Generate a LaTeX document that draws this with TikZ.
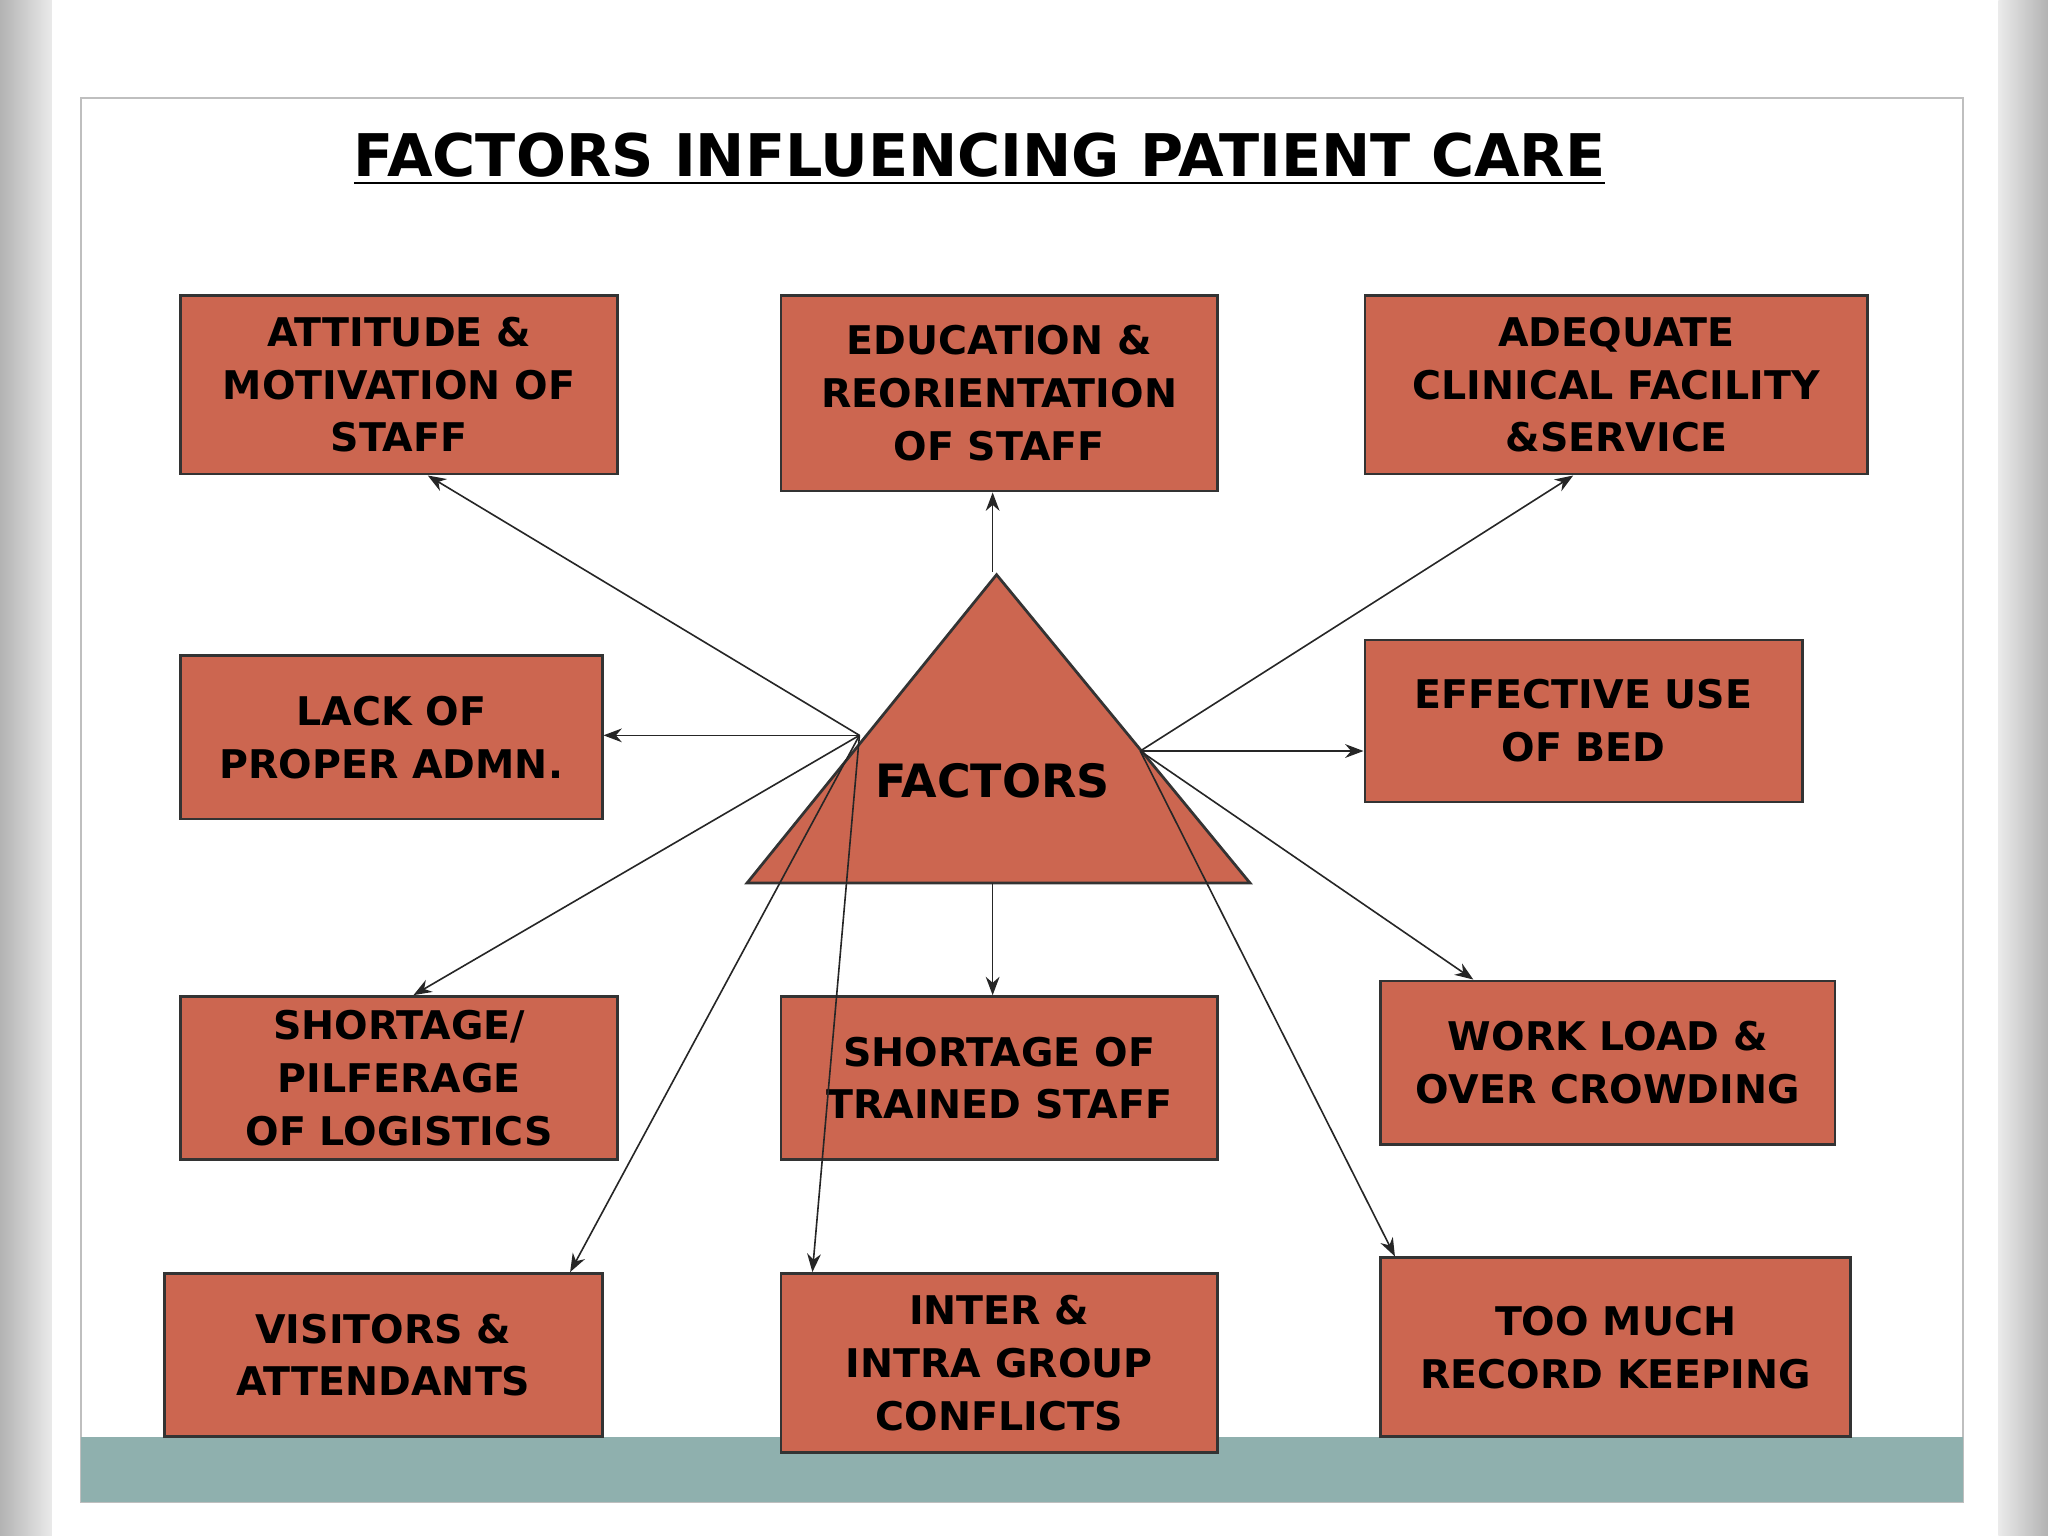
\documentclass[tikz,border=0pt]{standalone}
\usepackage{fontspec}
\setmainfont{DejaVu Sans}
\usetikzlibrary{arrows.meta,calc}
\definecolor{boxc}{HTML}{CC6650}
\definecolor{teal}{HTML}{8FB0AE}
\begin{document}
\begin{tikzpicture}[x=0.01cm,y=-0.01cm,
  bx/.style={draw=black!80,line width=0.6pt,fill=boxc,font=\bfseries\fontsize{8.6}{11.5}\selectfont,align=center,inner sep=0pt},
  ar/.style={draw=black!85,line width=0.35pt,-{Stealth[length=4pt,width=3pt]}}]
\useasboundingbox (0,0) rectangle (1568,1176);
\shade[left color=black!30,right color=black!8] (0,0) rectangle (40,1176);
\shade[left color=black!8,right color=black!30] (1530,0) rectangle (1568,1176);
\fill[white] (40,0) rectangle (1530,1176);
\draw[black!25] (62,75) rectangle (1503,1150);
\fill[teal] (62,1100) rectangle (1503,1150);
\node[font=\bfseries\fontsize{12.8}{14}\selectfont] (title) at (750,122) {\underline{FACTORS INFLUENCING PATIENT CARE}};
\newcommand{\bxx}[6]{\node[bx,minimum width={(#4-#2)*0.01cm},minimum height={(#5-#3)*0.01cm}] (#1) at ({(#2+#4)/2},{(#3+#5)/2}) {#6};}
\bxx{att}{138}{226}{473}{363}{ATTITUDE \&\\MOTIVATION OF\\STAFF}
\bxx{edu}{598}{226}{932}{376}{EDUCATION \&\\REORIENTATION\\OF STAFF}
\bxx{adq}{1045}{226}{1430}{363}{ADEQUATE\\CLINICAL FACILITY\\\&SERVICE}
\bxx{lack}{138}{502}{461}{627}{LACK OF\\PROPER ADMN.}
\bxx{eff}{1045}{490}{1380}{614}{EFFECTIVE USE\\OF BED}
\bxx{shl}{138}{763}{473}{888}{SHORTAGE/\\PILFERAGE\\OF LOGISTICS}
\bxx{sht}{598}{763}{932}{888}{SHORTAGE OF\\TRAINED STAFF}
\bxx{wl}{1057}{751}{1405}{876}{WORK LOAD \&\\OVER CROWDING}
\bxx{vis}{126}{975}{461}{1100}{VISITORS \&\\ATTENDANTS}
\bxx{int}{598}{975}{932}{1112}{INTER \&\\INTRA GROUP\\CONFLICTS}
\bxx{rec}{1057}{963}{1417}{1100}{TOO MUCH\\RECORD KEEPING}
\draw[fill=boxc,draw=black!80,line width=0.6pt] (763,440) -- (957,676) -- (572,676) -- cycle;
\node[font=\bfseries\fontsize{10}{12}\selectfont] (fac) at (760,598) {FACTORS};
\coordinate (L) at (658,563);
\coordinate (R) at (873,575);
\coordinate (T) at (760,438);
\coordinate (B) at (760,676);
\draw[ar] (L) -- ($(att.south)+(22,0)$);
\draw[ar] (L) -- (lack.east |- L);
\draw[ar] (L) -- ($(shl.north)+(11,0)$);
\draw[ar] (L) -- ($(vis.north)+(143,0)$);
\draw[ar] (L) -- ($(int.north)+(-143,0)$);
\draw[ar] (T) -- (edu.south -| T);
\draw[ar] (B) -- (sht.north -| B);
\draw[ar] (R) -- ($(adq.south)+(-33,0)$);
\draw[ar] (R) -- (eff.west |- R);
\draw[ar] (R) -- ($(wl.north)+(-103,0)$);
\draw[ar] (R) -- ($(rec.north)+(-169,0)$);
\end{tikzpicture}
\end{document}
